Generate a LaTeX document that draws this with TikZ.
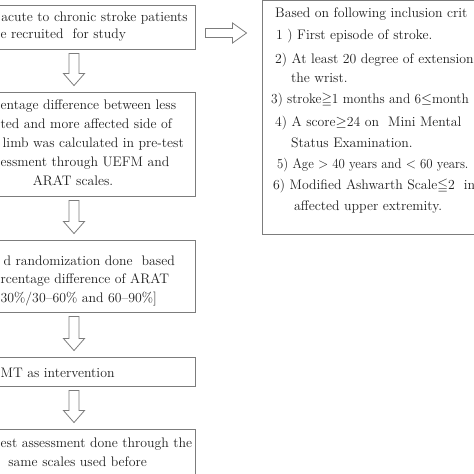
\documentclass[tikz,border=0pt]{standalone}
\usepackage{amssymb}
\usepackage{graphicx}
\usetikzlibrary{calc}
\definecolor{linegray}{HTML}{7C7C7C}
\definecolor{txt}{HTML}{1E1E1E}
\tikzset{
  box/.style={draw=linegray, line width=0.9pt, inner sep=0pt, fill=none},
  blockarrow/.style={draw=linegray, line width=0.8pt, fill=white, line join=miter},
  ln/.style={inner sep=0pt, text=txt},
}
\begin{document}
\begin{tikzpicture}[x=1pt,y=-1pt,font=\fontsize{13.8}{18}\selectfont]
\useasboundingbox (0,0) rectangle (474,474);
\fill[white] (0,0) rectangle (474,474);

% boxes
\node[box, minimum width=242pt, minimum height=44pt] (b1) at (74,27) {};
\node[box, minimum width=242pt, minimum height=104pt] (b2) at (74,144) {};
\node[box, minimum width=242pt, minimum height=72pt] (b3) at (74,276) {};
\node[box, minimum width=242pt, minimum height=29pt] (b4) at (74,371.5) {};
\node[box, minimum width=242pt, minimum height=71pt] (b5) at (74,464.5) {};
\node[box, minimum width=257.5pt, minimum height=233.2pt] (R) at (391.25,117.4) {};

% vertical block arrows
\foreach \a/\b in {b1/b2, b2/b3, b3/b4, b4/b5}{
  \draw[blockarrow] let \p1=($(\a.south)+(0,4)$), \p2=($(\b.north)+(0,-6)$) in
    (\x1-5pt,\y1) -- (\x1+5pt,\y1) -- (\x1+5pt,\y2+12pt) -- (\x1+10.5pt,\y2+12pt)
    -- (\x1,\y2) -- (\x1-10.5pt,\y2+12pt) -- (\x1-5pt,\y2+12pt) -- cycle;
}
% horizontal block arrow
\draw[blockarrow] let \p1=($(b1.east)+(10,6)$), \p2=($(R.west)+(-15.5,0)$) in
  (\x1,\y1+4.5pt) -- (\x2-14pt,\y1+4.5pt) -- (\x2-14pt,\y1+10pt) -- (\x2,\y1)
  -- (\x2-14pt,\y1-10pt) -- (\x2-14pt,\y1-4.5pt) -- (\x1,\y1-4.5pt) -- cycle;

% box 1 text
\node[ln, anchor=base east] (t11) at (188,21) {acute to chronic stroke patients};
\node[ln, anchor=base west] (t12) at (0.5,38) {e recruited\ \ for study};
% box 2 text
\node[ln, anchor=base west] (t21) at (0.5,109.5) {entage difference between less};
\node[ln, anchor=base west] (t22) at (0.5,128.5) {ted and more affected side of};
\node[ln, anchor=base east] (t23) at (184,147.5) {limb was calculated in pre-test};
\node[ln, anchor=base west] (t24) at (0.5,166.5) {essment through UEFM and};
\node[ln, anchor=base] (t25) at (73,185.5) {ARAT scales.};
% box 3 text
\node[ln, anchor=base east] (t31) at (175,265) {d randomization done\ \ based};
\node[ln, anchor=base west] (t32) at (0.5,283) {rcentage difference of ARAT};
\node[ln, anchor=base west] (t33) at (0.5,302) {30\%/30--60\% and 60--90\%]};
% box 4 text
\node[ln, anchor=base west] (t41) at (0.5,377) {MT as intervention};
% box 5 text
\node[ln, anchor=base west] (t51) at (0.5,447) {est assessment done through the};
\node[ln, anchor=base east] (t52) at (147,466) {same scales used before};

% right box text
\node[ln, anchor=base west] (r0) at (275,17) {Based on following inclusion crit};
\node[ln, anchor=base west] (r1) at (276,39) {1 ) First episode of stroke.};
\node[ln, anchor=base west] (r2) at (275,63) {2) At least 20 degree of extension};
\node[ln, anchor=base west] (r2b) at (291,82) {the wrist.};
\node[ln, anchor=base west] (r3) at (271,103) {\scalebox{0.97}[1]{3) stroke$\geqq$1 months and 6$\leq$month}};
\node[ln, anchor=base west] (r4) at (275,126) {4) A score$\geq$24 on\ \ Mini Mental};
\node[ln, anchor=base west] (r4b) at (291,147) {Status Examination.};
\node[ln, anchor=base west] (r5) at (277,168) {\scalebox{0.93}[1]{5) Age $>$ 40 years and $<$ 60 years.}};
\node[ln, anchor=base west] (r6) at (273,189) {6) Modified Ashwarth Scale$\leqq$2\ \ in};
\node[ln, anchor=base west] (r6b) at (294,210) {affected upper extremity.};
\end{tikzpicture}
\end{document}
